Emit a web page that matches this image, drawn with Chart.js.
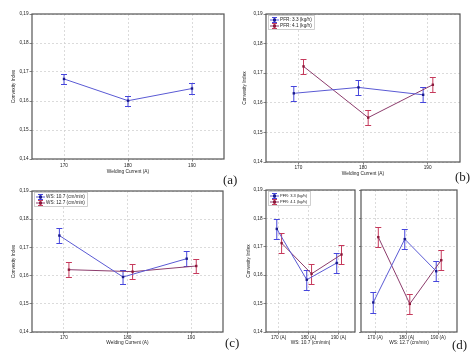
<!DOCTYPE html>
<html><head><meta charset="utf-8">
<script src="https://cdn.jsdelivr.net/npm/chart.js@4.4.0/dist/chart.umd.min.js"></script>
<style>
html,body{margin:0;padding:0;background:#fff;width:474px;height:355px;overflow:hidden;position:relative}
canvas{position:absolute}
.lbl{position:absolute;font-family:"Liberation Serif","DejaVu Serif",serif;font-size:13px;line-height:13px;color:#222}
</style></head><body>
<canvas id="ca" width="237" height="177" style="left:0;top:0"></canvas>
<canvas id="cb" width="237" height="177" style="left:237px;top:0"></canvas>
<canvas id="cc" width="237" height="178" style="left:0;top:177px"></canvas>
<canvas id="cd1" width="122" height="178" style="left:237px;top:177px"></canvas>
<canvas id="cd2" width="115" height="178" style="left:359px;top:177px"></canvas>
<div class="lbl" style="left:223px;top:173px">(a)</div>
<div class="lbl" style="left:455px;top:170px">(b)</div>
<div class="lbl" style="left:225px;top:336px">(c)</div>
<div class="lbl" style="left:452px;top:338px">(d)</div>
<script>
// ---------- data ----------
const currents = [170, 180, 190];
const xLabelsABC = ['170', '180', '190'];
const xLabelsD = ['170 (A)', '180 (A)', '190 (A)'];
const yTickValues = [0.14, 0.15, 0.16, 0.17, 0.18, 0.19];
const yTitle = 'Convexity Index';
const xTitleABC = 'Welding Current (A)';
const xTitleD1 = 'WS: 10.7 (cm/min)';
const xTitleD2 = 'WS: 12.7 (cm/min)';
const legendPFR = ['PFR: 3.3 (kg/h)', 'PFR: 4.1 (kg/h)'];
const legendWS = ['WS: 10.7 (cm/min)', 'WS: 12.7 (cm/min)'];

// (a)
const convexA = [0.1676, 0.1601, 0.1643];
const errA = [0.0018, 0.0017, 0.0018];
// (b)
const pfr33B = [0.1632, 0.1652, 0.1627];
const errPfr33B = [0.0025, 0.0025, 0.0025];
const pfr41B = [0.1723, 0.1550, 0.1661];
const errPfr41B = [0.0025, 0.0025, 0.0025];
// (c)
const ws107C = [0.1742, 0.1595, 0.1660];
const errWs107C = [0.0026, 0.0026, 0.0026];
const ws127C = [0.1621, 0.1614, 0.1634];
const errWs127C = [0.0026, 0.0026, 0.0026];
// (d) WS 10.7
const pfr33D1 = [0.1763, 0.1584, 0.1643];
const errPfr33D1 = [0.0035, 0.0036, 0.0035];
const pfr41D1 = [0.1713, 0.1605, 0.1673];
const errPfr41D1 = [0.0035, 0.0035, 0.0035];
// (d) WS 12.7
const pfr33D2 = [0.1504, 0.1727, 0.1614];
const errPfr33D2 = [0.0036, 0.0035, 0.0035];
const pfr41D2 = [0.1734, 0.1499, 0.1653];
const errPfr41D2 = [0.0035, 0.0035, 0.0035];

// ---------- styles ----------
const FONT = '"Liberation Sans", Arial, sans-serif';
const BLUE = {line: '#5a5ad4', err: '#4646dc', mark: '#1a1a8c'};
const RED = {line: '#8c3c6c', err: '#c63a5c', mark: '#8c183a'};

function makeIcon(col) {
  const c = document.createElement('canvas');
  c.width = 9; c.height = 6;
  const g = c.getContext('2d');
  g.strokeStyle = col.line; g.lineWidth = 1;
  g.beginPath(); g.moveTo(0, 3); g.lineTo(9, 3); g.stroke();
  g.strokeStyle = col.err;
  g.beginPath(); g.moveTo(4.5, 0); g.lineTo(4.5, 6);
  g.moveTo(2, 0.5); g.lineTo(7, 0.5); g.moveTo(2, 5.5); g.lineTo(7, 5.5); g.stroke();
  g.fillStyle = col.mark; g.fillRect(3, 1.5, 3, 3);
  return c;
}

function ds(label, values, errs, col, dodge) {
  return {
    label, errors: errs, errColor: col.err, legendIcon: makeIcon(col),
    data: values.map((v, i) => ({x: currents[i] + dodge, y: v})),
    borderColor: col.line, borderWidth: 1, backgroundColor: col.mark,
    pointStyle: 'rect', pointRadius: 1.7, pointBorderWidth: 0, pointHoverRadius: 1.7,
    tension: 0
  };
}

const errorBars = {
  id: 'errorBars',
  beforeDatasetsDraw(chart) {
    const ctx = chart.ctx, ys = chart.scales.y;
    chart.data.datasets.forEach((d, di) => {
      const meta = chart.getDatasetMeta(di);
      ctx.save(); ctx.strokeStyle = d.errColor; ctx.lineWidth = 1;
      meta.data.forEach((pt, i) => {
        const v = d.data[i].y, e = d.errors[i];
        const x = pt.x;
        const y1 = Math.round(ys.getPixelForValue(v + e)) + 0.5;
        const y2 = Math.round(ys.getPixelForValue(v - e)) + 0.5;
        ctx.beginPath();
        ctx.moveTo(x, y1); ctx.lineTo(x, y2);
        ctx.moveTo(x - 3, y1); ctx.lineTo(x + 3, y1);
        ctx.moveTo(x - 3, y2); ctx.lineTo(x + 3, y2);
        ctx.stroke();
      });
      ctx.restore();
    });
  }
};

const frame = {
  id: 'frame',
  afterDatasetsDraw(chart) {
    const a = chart.chartArea, ctx = chart.ctx;
    ctx.save(); ctx.strokeStyle = '#555'; ctx.lineWidth = 1.2;
    ctx.strokeRect(a.left, a.top, a.right - a.left, a.bottom - a.top);
    ctx.restore();
  }
};

const insetLegend = {
  id: 'insetLegend',
  afterDraw(chart, args, o) {
    if (!o || !o.show) return;
    const a = chart.chartArea, ctx = chart.ctx, sets = chart.data.datasets;
    ctx.save();
    ctx.font = o.size + 'px ' + FONT;
    const bx = Math.round(a.left) + 2.5, by = Math.round(a.top) + 1.5;
    const textX = a.left + 14;
    const tw = Math.max(...sets.map(d => ctx.measureText(d.label).width));
    const bw = Math.round(textX + tw + 3 - bx), bh = sets.length * o.row + 2;
    ctx.fillStyle = '#fff'; ctx.fillRect(bx, by, bw, bh);
    ctx.strokeStyle = '#c4c4c4'; ctx.lineWidth = 0.8; ctx.strokeRect(bx, by, bw, bh);
    sets.forEach((d, i) => {
      const cy = by + 1 + o.row * (i + 0.5);
      ctx.drawImage(d.legendIcon, Math.round(a.left) + 4, Math.round(cy - 3));
      ctx.fillStyle = '#222'; ctx.textBaseline = 'middle'; ctx.textAlign = 'left';
      ctx.fillText(d.label, textX, cy);
    });
    ctx.restore();
  }
};

function options(cfg) {
  return {
    responsive: false, animation: false, events: [],
    layout: {padding: cfg.pad},
    plugins: {
      tooltip: {enabled: false},
      legend: {display: false},
      insetLegend: {show: !!cfg.legendFont, size: cfg.legendFont, row: cfg.row || 6}
    },
    scales: {
      x: {
        type: 'linear', min: cfg.xmin, max: cfg.xmax,
        afterBuildTicks(s) { s.ticks = currents.map(v => ({value: v})); },
        afterFit(s) { s.height = cfg.xh; },
        ticks: {autoSkip: false, maxRotation: 0, padding: cfg.xtp, color: '#222',
          font: {family: FONT, size: 4.7},
          callback: (v, i) => cfg.xlabels[i]},
        grid: {color: '#d2d2d2', lineWidth: 0.8, tickLength: 2.5, tickColor: '#666'},
        border: {display: false, dash: [2, 2]},
        title: {display: true, text: cfg.xtitle, color: '#222',
          font: {family: FONT, size: 4.8}, padding: {top: 0, bottom: cfg.xtpb}}
      },
      y: {
        type: 'linear', min: 0.14, max: 0.19,
        afterBuildTicks(s) { s.ticks = yTickValues.map(v => ({value: v})); },
        afterFit(s) { s.width = cfg.yw; },
        ticks: {display: cfg.yshow, padding: 1, color: '#222',
          font: {family: FONT, size: 4.7},
          callback: v => v.toFixed(2).replace('.', ',')},
        grid: {color: '#d2d2d2', lineWidth: 0.8, tickLength: 2.5, tickColor: '#666'},
        border: {display: false, dash: [2, 2]},
        title: {display: cfg.yshow, text: yTitle, color: '#222',
          font: {family: FONT, size: 4.7}, padding: {top: cfg.ytp, bottom: 0}}
      }
    }
  };
}

function make(id, datasets, cfg) {
  new Chart(document.getElementById(id), {
    type: 'line', data: {datasets}, options: options(cfg), plugins: [errorBars, frame, insetLegend]
  });
}

const dodgeL = -0.7, dodgeR = 0.8;

make('ca', [ds('', convexA, errA, BLUE, 0)], {
  pad: {left: 0, top: 14, right: 13, bottom: 0}, yw: 32, xh: 18, xtp: 1, xtpb: 2.2,
  ytp: 10.7, yshow: true, xmin: 165, xmax: 195, xlabels: xLabelsABC, xtitle: xTitleABC
});

make('cb', [ds(legendPFR[0], pfr33B, errPfr33B, BLUE, dodgeL), ds(legendPFR[1], pfr41B, errPfr41B, RED, dodgeR)], {
  pad: {left: 0, top: 14, right: 14, bottom: 0}, yw: 29, xh: 15, xtp: 0, xtpb: 0,
  ytp: 5, yshow: true, xmin: 165, xmax: 195, xlabels: xLabelsABC, xtitle: xTitleABC, legendFont: 4.7, row: 6
});

make('cc', [ds(legendWS[0], ws107C, errWs107C, BLUE, dodgeL), ds(legendWS[1], ws127C, errWs127C, RED, dodgeR)], {
  pad: {left: 0, top: 14, right: 14, bottom: 8}, yw: 32, xh: 15, xtp: 0, xtpb: 1.5,
  ytp: 10.7, yshow: true, xmin: 165, xmax: 195, xlabels: xLabelsABC, xtitle: xTitleABC, legendFont: 4.7, row: 6
});

make('cd1', [ds(legendPFR[0], pfr33D1, errPfr33D1, BLUE, -0.6), ds(legendPFR[1], pfr41D1, errPfr41D1, RED, 1.0)], {
  pad: {left: 0, top: 13, right: 4, bottom: 8}, yw: 29, xh: 15, xtp: 0, xtpb: 1.2,
  ytp: 9.2, yshow: true, xmin: 165.8, xmax: 195.5, xlabels: xLabelsD, xtitle: xTitleD1, legendFont: 4, row: 6
});

make('cd2', [ds(legendPFR[0], pfr33D2, errPfr33D2, BLUE, -0.6), ds(legendPFR[1], pfr41D2, errPfr41D2, RED, 1.0)], {
  pad: {left: 2, top: 13, right: 17, bottom: 8}, yw: 0, xh: 15, xtp: 0, xtpb: 1.2,
  ytp: 0, yshow: false, xmin: 165.5, xmax: 196, xlabels: xLabelsD, xtitle: xTitleD2
});
</script>
</body></html>
